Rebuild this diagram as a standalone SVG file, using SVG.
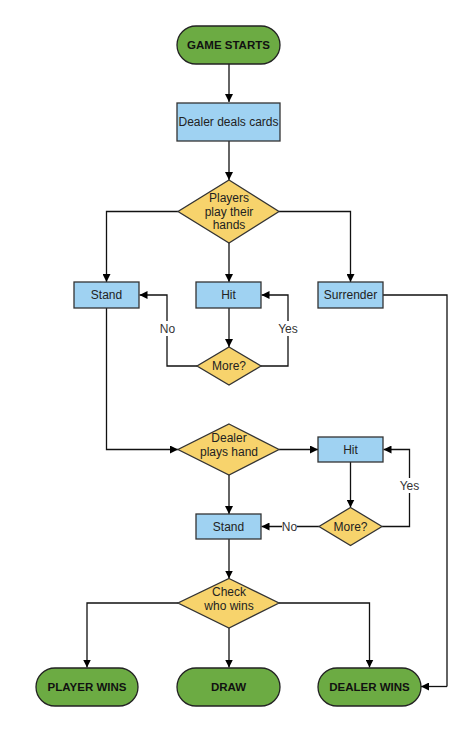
<svg xmlns="http://www.w3.org/2000/svg" width="474" height="732" viewBox="0 0 474 732">
<defs>
<marker id="ah" viewBox="0 0 10 10" refX="10" refY="5" markerWidth="8" markerHeight="8" markerUnits="userSpaceOnUse" orient="auto">
<path d="M0,0 L10,5 L0,10 z" fill="#000"/>
</marker>
<style>
.term{fill:#6cab43;stroke:#222;stroke-width:1.3}
.proc{fill:#9fd2f2;stroke:#333;stroke-width:1.3}
.dec{fill:#f7d36c;stroke:#333;stroke-width:1.3}
.t{font-family:"Liberation Sans",Arial,sans-serif;font-size:12px;fill:#222;text-anchor:middle;dominant-baseline:central}
.tb{font-family:"Liberation Sans",Arial,sans-serif;font-size:11.5px;font-weight:bold;fill:#111;text-anchor:middle;dominant-baseline:central}
.c path{fill:none;stroke:#111;stroke-width:1.3}
.a{marker-end:url(#ah)}
.lbl{font-family:"Liberation Sans",Arial,sans-serif;font-size:12px;fill:#333;text-anchor:middle;dominant-baseline:central}
</style>
</defs>
<rect width="474" height="732" fill="#fff"/>
<g class="c" id="connectors">
<path class="a" d="M229,64 V102"/>
<path class="a" d="M229,141 V180"/>
<path class="a" d="M178,211.5 H106.5 V282"/>
<path class="a" d="M229,243 V282"/>
<path class="a" d="M279,211.5 H350.5 V282"/>
<path d="M383,295 H447 V686.5"/>
<path class="a" d="M447,686.5 H421"/>
<path class="a" d="M229,308 V347"/>
<path class="a" d="M197,366 H167 V295 H139.5"/>
<path class="a" d="M261,366 H288 V295 H261.5"/>
<path class="a" d="M106.5,308 V449.5 H178"/>
<path class="a" d="M279,449.5 H318"/>
<path class="a" d="M350.5,462 V507.5"/>
<path class="a" d="M382,526.5 H409.5 V449.5 H383.5"/>
<path class="a" d="M319,526.5 H261.5"/>
<path class="a" d="M229,475 V514"/>
<path class="a" d="M229,539 V578.5"/>
<path class="a" d="M178,603 H87 V667.5"/>
<path class="a" d="M229,628 V667.5"/>
<path class="a" d="M279,603 H369.5 V667.5"/>
<rect x="162" y="321" width="11" height="15" fill="#fff"/>
<text class="lbl" x="167.5" y="329">No</text>
<rect x="279" y="321" width="19" height="15" fill="#fff"/>
<text class="lbl" x="288" y="329">Yes</text>
<rect x="400" y="478" width="19" height="15" fill="#fff"/>
<text class="lbl" x="409.5" y="486">Yes</text>
<rect x="282" y="519" width="15" height="15" fill="#fff"/>
<text class="lbl" x="289.5" y="526.5">No</text>
</g>
<g id="game-starts"><rect class="term" x="177" y="26" width="103" height="38" rx="19"/><text class="tb" x="228.5" y="45">GAME STARTS</text></g>
<g id="dealer-deals"><rect class="proc" x="177" y="103" width="103" height="38"/><text class="t" x="228.5" y="122">Dealer deals cards</text></g>
<g id="players-play"><polygon class="dec" points="229,180 279,211.5 229,243 178,211.5"/><text class="t" x="229" y="197.5">Players</text><text class="t" x="229" y="211.5">play their</text><text class="t" x="229" y="225">hands</text></g>
<g id="stand1"><rect class="proc" x="74" y="282" width="65" height="26"/><text class="t" x="106.5" y="295">Stand</text></g>
<g id="hit1"><rect class="proc" x="196" y="282" width="65" height="26"/><text class="t" x="228.5" y="295">Hit</text></g>
<g id="surrender"><rect class="proc" x="318" y="282" width="65" height="26"/><text class="t" x="350.5" y="295">Surrender</text></g>
<g id="more1"><polygon class="dec" points="229,347 261,366 229,385 197,366"/><text class="t" x="229" y="366">More?</text></g>
<g id="dealer-plays"><polygon class="dec" points="229,424 279,449.5 229,475 178,449.5"/><text class="t" x="229" y="438">Dealer</text><text class="t" x="229" y="452">plays hand</text></g>
<g id="hit2"><rect class="proc" x="318" y="437" width="65" height="25"/><text class="t" x="350.5" y="449.5">Hit</text></g>
<g id="more2"><polygon class="dec" points="350.5,507.5 382,526.5 350.5,545.5 319,526.5"/><text class="t" x="350.5" y="526.5">More?</text></g>
<g id="stand2"><rect class="proc" x="196" y="514" width="65" height="25"/><text class="t" x="228.5" y="526.5">Stand</text></g>
<g id="check"><polygon class="dec" points="229,578.5 279,603 229,628 178,603"/><text class="t" x="229" y="592">Check</text><text class="t" x="229" y="606">who wins</text></g>
<g id="player-wins"><rect class="term" x="36" y="668" width="102" height="38" rx="19"/><text class="tb" x="87" y="687">PLAYER WINS</text></g>
<g id="draw"><rect class="term" x="177" y="668" width="103" height="38" rx="19"/><text class="tb" x="228.5" y="687">DRAW</text></g>
<g id="dealer-wins"><rect class="term" x="318" y="668" width="103" height="38" rx="19"/><text class="tb" x="369.5" y="687">DEALER WINS</text></g>
</svg>
